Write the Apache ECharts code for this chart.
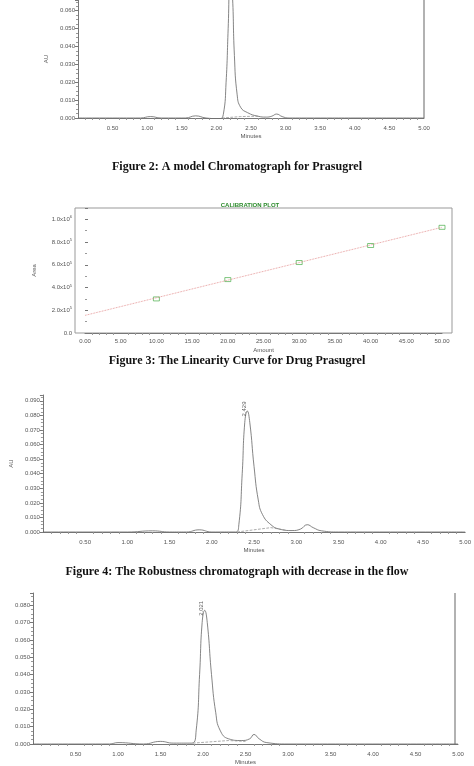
<!DOCTYPE html>
<html><head><meta charset="utf-8">
<script src="https://cdn.jsdelivr.net/npm/echarts@6/dist/echarts.min.js"></script>
<style>html,body{margin:0;padding:0;background:#fff}#c{width:474px;height:766px}</style>
</head><body><div id="c"></div>
<script>
// chromatogram traces [minutes, AU]
var fig2Trace = [[0,0],[0.5,0],[0.9,0],[1.05,0.0008],[1.2,0],[1.55,0],[1.7,0.0012],[1.85,0],[2.05,-0.0004],[2.1,0.002],[2.14,0.02],[2.17,0.05],[2.2,0.08],[2.23,0.07],[2.26,0.035],[2.3,0.013],[2.35,0.006],[2.45,0.003],[2.6,0.001],[2.72,0.0005],[2.8,0.001],[2.87,0.0022],[2.95,0.0008],[3.05,0],[5,0]];
var fig2Base = [[2.08,0],[2.35,0.0008],[2.6,0.001]];
var calAmount = [10, 20, 30, 40, 50];
var calArea = [300000, 470000, 620000, 770000, 930000];
var calFit = [[0, 155000], [50, 930000]];
var fig4Trace = [[0,0],[1.0,0],[1.3,0.0008],[1.5,0],[1.7,0],[1.85,0.0015],[2.0,0],[2.28,0],[2.32,0.005],[2.36,0.04],[2.39,0.075],[2.42,0.083],[2.45,0.075],[2.5,0.045],[2.55,0.022],[2.6,0.012],[2.7,0.005],[2.8,0.002],[2.95,0.001],[3.05,0.002],[3.13,0.005],[3.2,0.003],[3.3,0.0008],[3.5,0],[5,0]];
var fig4Base = [[2.3,0],[2.7,0.003],[2.9,0.001]];
var fig4Peak = [[2.42, 0.083, '2.429']];
var fig5Trace = [[0,0],[0.9,0],[1.0,0.0008],[1.3,0],[1.5,0.0015],[1.65,0.0005],[1.87,0.0005],[1.92,0.008],[1.96,0.04],[1.99,0.07],[2.02,0.077],[2.05,0.07],[2.1,0.04],[2.15,0.018],[2.2,0.008],[2.3,0.003],[2.45,0.002],[2.55,0.003],[2.6,0.0055],[2.66,0.003],[2.75,0.0008],[3,0],[5,0]];
var fig5Base = [[1.88,0.0005],[2.3,0.002],[2.5,0.0015]];
var fig5Peak = [[2.02, 0.077, '2.021']];
var captions = ['Figure 2: A model Chromatograph for Prasugrel', 'Figure 3: The Linearity Curve for Drug Prasugrel', 'Figure 4: The Robustness chromatograph with decrease in the flow'];

var grey = '#777';
var lbl = {fontSize: 6, color: '#555', fontFamily: 'Arial'};

function minutesAxis(gi, name) {
    return {
        gridIndex: gi, type: 'value', min: 0, max: 5, interval: 0.5,
        name: name, nameLocation: 'middle', nameGap: 15, nameTextStyle: lbl,
        axisLine: {lineStyle: {color: grey}},
        axisTick: {show: false},
        minorTick: {show: true, splitNumber: 5, length: 2, lineStyle: {color: '#999'}},
        splitLine: {show: false},
        axisLabel: Object.assign({margin: 7, showMinLabel: false, formatter: function (v) { return v.toFixed(2); }}, lbl)
    };
}
function auAxis(gi, max, name) {
    return {
        gridIndex: gi, type: 'value', min: 0, max: max, interval: 0.01,
        name: name, nameLocation: 'middle', nameGap: 22, nameTextStyle: lbl,
        axisLine: {show: true, lineStyle: {color: grey}},
        axisTick: {show: true, length: 3, lineStyle: {color: grey}},
        minorTick: {show: true, splitNumber: 4, length: 2, lineStyle: {color: '#999'}},
        splitLine: {show: false},
        axisLabel: Object.assign({margin: 3, showMaxLabel: false, formatter: function (v) { return v.toFixed(3); }}, lbl)
    };
}
function trace(i, d) {
    return {type: 'line', xAxisIndex: i, yAxisIndex: i, data: d, smooth: true, symbol: 'none', lineStyle: {color: '#666', width: 0.8}};
}
function base(i, d) {
    return {type: 'line', xAxisIndex: i, yAxisIndex: i, data: d, symbol: 'none', lineStyle: {color: '#888', width: 0.7, type: 'dashed'}};
}
function peak(i, d) {
    return {type: 'scatter', xAxisIndex: i, yAxisIndex: i, data: d, symbolSize: 0,
        label: {show: true, rotate: 90, position: 'top', distance: 2, fontSize: 6, color: '#333', formatter: function (p) { return p.data[2]; }}};
}
var sup = {s: {fontSize: 4, verticalAlign: 'top', color: '#555', padding: [0, 0, 4, 0]}};

var option = {
    animation: false,
    backgroundColor: '#fff',
    title: [
        {text: captions[0], left: 'center', top: 156, textStyle: {fontFamily: 'Liberation Serif', fontSize: 12, fontWeight: 'bold', color: '#111'}},
        {text: 'CALIBRATION PLOT', left: 245, textAlign: 'center', top: 197, textStyle: {fontFamily: 'Arial', fontSize: 6, fontWeight: 'bold', color: '#2a8a2a'}},
        {text: captions[1], left: 'center', top: 350, textStyle: {fontFamily: 'Liberation Serif', fontSize: 12, fontWeight: 'bold', color: '#111'}},
        {text: captions[2], left: 'center', top: 561, textStyle: {fontFamily: 'Liberation Serif', fontSize: 12, fontWeight: 'bold', color: '#111'}}
    ],
    grid: [
        {left: 78, right: 50, top: 0, bottom: 648},
        {left: 85, right: 32, top: 208, bottom: 433},
        {left: 33, right: 4, top: 395, bottom: 234},
        {left: 33, right: 16, top: 593, bottom: 22}
    ],
    graphic: [
        {type: 'line', shape: {x1: 424, y1: 0, x2: 424, y2: 118}, style: {stroke: '#999', lineWidth: 1.5}},
        {type: 'rect', shape: {x: 75, y: 208, width: 377, height: 125}, style: {fill: 'none', stroke: '#999', lineWidth: 1}},
        {type: 'line', shape: {x1: 455, y1: 593, x2: 455, y2: 744}, style: {stroke: '#999', lineWidth: 1.5}}
    ],
    xAxis: [
        minutesAxis(0, 'Minutes'),
        {gridIndex: 1, type: 'value', min: 0, max: 50, interval: 5,
            name: 'Amount', nameLocation: 'middle', nameGap: 14, nameTextStyle: lbl,
            axisLine: {lineStyle: {color: grey}}, axisTick: {show: false},
            minorTick: {show: true, splitNumber: 5, length: 2, lineStyle: {color: '#999'}},
            splitLine: {show: false},
            axisLabel: Object.assign({margin: 5, formatter: function (v) { return v.toFixed(2); }}, lbl)},
        minutesAxis(2, 'Minutes'),
        minutesAxis(3, 'Minutes')
    ],
    yAxis: [
        auAxis(0, 0.066, 'AU'),
        {gridIndex: 1, type: 'value', min: 0, max: 1100000, interval: 200000, offset: 10,
            name: 'Area', nameLocation: 'middle', nameGap: 38, nameTextStyle: lbl,
            axisLine: {show: false}, axisTick: {show: true, inside: true, length: 3, lineStyle: {color: grey}},
            minorTick: {show: true, splitNumber: 2, length: 2, lineStyle: {color: '#999'}},
            splitLine: {show: false},
            axisLabel: Object.assign({margin: 3, showMaxLabel: false, rich: sup, formatter: function (v) {
                if (v === 0) return '0.0';
                if (v >= 1000000) return (v / 1000000).toFixed(1) + 'x10{s|6}';
                return (v / 100000).toFixed(1) + 'x10{s|5}';
            }}, lbl)},
        auAxis(2, 0.094, 'AU'),
        auAxis(3, 0.087, '')
    ],
    series: [
        trace(0, fig2Trace), base(0, fig2Base),
        {type: 'line', xAxisIndex: 1, yAxisIndex: 1, data: calFit, symbol: 'none', lineStyle: {color: '#e08080', width: 0.8, type: 'dotted'}},
        {type: 'scatter', xAxisIndex: 1, yAxisIndex: 1, data: calAmount.map(function (a, i) { return [a, calArea[i]]; }),
            symbol: 'rect', symbolSize: [6, 4], itemStyle: {color: '#fff', borderColor: '#3aa83a', borderWidth: 0.8}},
        trace(2, fig4Trace), base(2, fig4Base), peak(2, fig4Peak),
        trace(3, fig5Trace), base(3, fig5Base), peak(3, fig5Peak)
    ]
};
echarts.init(document.getElementById('c')).setOption(option);
</script></body></html>
